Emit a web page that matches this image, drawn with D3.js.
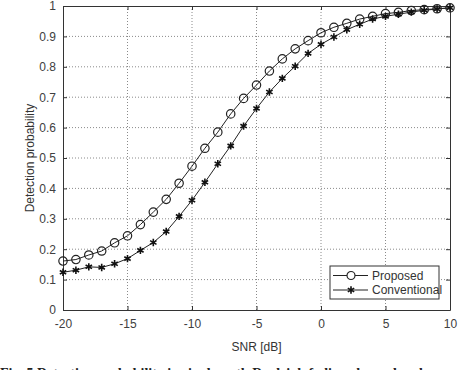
<!DOCTYPE html>
<html>
<head>
<meta charset="utf-8">
<script src="https://cdn.jsdelivr.net/npm/d3@7"></script>
<style>
  body { margin: 0; background: #fff; }
  svg { display: block; }
  .tick text { font-family: "Liberation Sans", Arial, sans-serif; font-size: 12px; fill: #404040; }
</style>
</head>
<body>
<svg class="chart"></svg>
<script>
var snr = d3.range(-20, 11, 1);
var proposed = [0.161, 0.166, 0.181, 0.194, 0.221, 0.244, 0.281, 0.322, 0.364, 0.417,
  0.473, 0.532, 0.585, 0.645, 0.696, 0.740, 0.786, 0.826, 0.859, 0.886,
  0.912, 0.930, 0.943, 0.957, 0.966, 0.975, 0.979, 0.985, 0.988, 0.991, 0.994];
var conventional = [0.124, 0.131, 0.142, 0.140, 0.152, 0.169, 0.196, 0.222, 0.258, 0.308,
  0.361, 0.420, 0.481, 0.540, 0.605, 0.663, 0.717, 0.762, 0.802, 0.844,
  0.874, 0.898, 0.922, 0.940, 0.957, 0.966, 0.973, 0.980, 0.986, 0.990, 0.994];
var xTicks = [-20, -15, -10, -5, 0, 5, 10];
var yTicks = [0, 0.1, 0.2, 0.3, 0.4, 0.5, 0.6, 0.7, 0.8, 0.9, 1];
var seriesNames = ["Proposed", "Conventional"];

(function show() {
  'use strict';
  var W = 474, H = 370;
  var margin = {top: 6, right: 24, bottom: 60, left: 63},
      width = W - margin.left - margin.right,
      height = H - margin.top - margin.bottom;

  var root = d3.select(".chart").attr("width", W).attr("height", H);
  var svg = root.append("g")
      .attr("transform", "translate(" + margin.left + "," + margin.top + ")");

  var x = d3.scaleLinear().domain([-20, 10]).range([0, width]);
  var y = d3.scaleLinear().domain([0, 1]).range([height, 0]);

  // grid
  var grid = svg.append("g").attr("class", "grid");
  grid.selectAll(".gx").data(xTicks.slice(1, -1)).enter().append("line")
      .attr("x1", function(d) { return x(d); }).attr("x2", function(d) { return x(d); })
      .attr("y1", 0).attr("y2", height)
      .attr("stroke", "#8a8a8a").attr("stroke-width", 1).attr("stroke-dasharray", "1,2");
  grid.selectAll(".gy").data(yTicks.slice(1, -1)).enter().append("line")
      .attr("y1", function(d) { return y(d); }).attr("y2", function(d) { return y(d); })
      .attr("x1", 0).attr("x2", width)
      .attr("stroke", "#8a8a8a").attr("stroke-width", 1).attr("stroke-dasharray", "1,2");

  // axes (hyphen minus, like the original)
  var xFmt = function(d) { return String(d); };
  var yFmt = function(d) { return d === 0 || d === 1 ? String(d) : d.toFixed(1); };
  svg.append("g").attr("transform", "translate(0," + height + ")")
      .call(d3.axisBottom(x).tickValues(xTicks).tickSizeInner(-4).tickSizeOuter(0).tickPadding(9).tickFormat(xFmt));
  svg.append("g")
      .call(d3.axisLeft(y).tickValues(yTicks).tickSizeInner(-4).tickSizeOuter(0).tickPadding(7).tickFormat(yFmt));
  svg.append("g")
      .call(d3.axisTop(x).tickValues(xTicks).tickSizeInner(-4).tickSizeOuter(0).tickFormat(""));
  svg.append("g").attr("transform", "translate(" + width + ",0)")
      .call(d3.axisRight(y).tickValues(yTicks).tickSizeInner(-4).tickSizeOuter(0).tickFormat(""));
  svg.selectAll(".domain").attr("stroke", "#333");
  svg.selectAll(".tick line").attr("stroke", "#333");

  // axis titles
  svg.append("text")
      .attr("x", x(-5)).attr("y", height + 41)
      .attr("text-anchor", "middle")
      .attr("font-family", "Liberation Sans, Arial, sans-serif").attr("font-size", 12).attr("fill", "#333")
      .text("SNR [dB]");
  svg.append("text")
      .attr("transform", "translate(" + (-29) + "," + y(0.5) + ") rotate(-90)")
      .attr("text-anchor", "middle")
      .attr("font-family", "Liberation Sans, Arial, sans-serif").attr("font-size", 12).attr("fill", "#333")
      .text("Detection probability");

  var line = d3.line()
      .x(function(d) { return x(d[0]); })
      .y(function(d) { return y(d[1]); });

  var star = d3.symbol().type(d3.symbolAsterisk).size(38);

  function drawSeries(vals, kind) {
    var pts = snr.map(function(s, i) { return [s, vals[i]]; });
    svg.append("path").datum(pts)
        .attr("d", line).attr("fill", "none").attr("stroke", "#222").attr("stroke-width", 1);
    var g = svg.append("g");
    if (kind === "circle") {
      g.selectAll("circle").data(pts).enter().append("circle")
          .attr("cx", function(d) { return x(d[0]); })
          .attr("cy", function(d) { return y(d[1]); })
          .attr("r", 4.2).attr("fill", "none").attr("stroke", "#222").attr("stroke-width", 1.2);
    } else {
      g.selectAll("path").data(pts).enter().append("path")
          .attr("d", star)
          .attr("transform", function(d) { return "translate(" + x(d[0]) + "," + y(d[1]) + ")"; })
          .attr("fill", "none").attr("stroke", "#111").attr("stroke-width", 1.6);
    }
  }
  drawSeries(proposed, "circle");
  drawSeries(conventional, "star");

  // legend
  var lg = svg.append("g").attr("transform", "translate(" + (330 - margin.left) + "," + (266 - margin.top) + ")");
  lg.append("rect").attr("width", 109).attr("height", 33)
      .attr("fill", "#fff").attr("stroke", "#333").attr("stroke-width", 1);
  seriesNames.forEach(function(name, i) {
    var cy = 9.5 + i * 14.5;
    lg.append("line").attr("x1", 3).attr("x2", 38).attr("y1", cy).attr("y2", cy)
        .attr("stroke", "#222").attr("stroke-width", 1);
    if (i === 0) {
      lg.append("circle").attr("cx", 21).attr("cy", cy).attr("r", 4)
          .attr("fill", "#fff").attr("stroke", "#222").attr("stroke-width", 1.2);
    } else {
      lg.append("path").attr("d", star).attr("transform", "translate(21," + cy + ")")
          .attr("fill", "none").attr("stroke", "#111").attr("stroke-width", 1.6);
    }
    lg.append("text").attr("x", 42).attr("y", cy + 4)
        .attr("font-family", "Liberation Sans, Arial, sans-serif").attr("font-size", 12).attr("fill", "#333")
        .text(name);
  });

  // caption (cut off at the bottom edge, as in the source image)
  root.append("text")
      .attr("x", 0).attr("y", 378)
      .attr("font-family", "Liberation Serif, Times New Roman, serif").attr("font-size", 14)
      .attr("font-weight", "bold").attr("fill", "#222")
      .text("Fig. 5 Detection probability in single-path Rayleigh fading channel and");
})();
</script>
</body>
</html>
